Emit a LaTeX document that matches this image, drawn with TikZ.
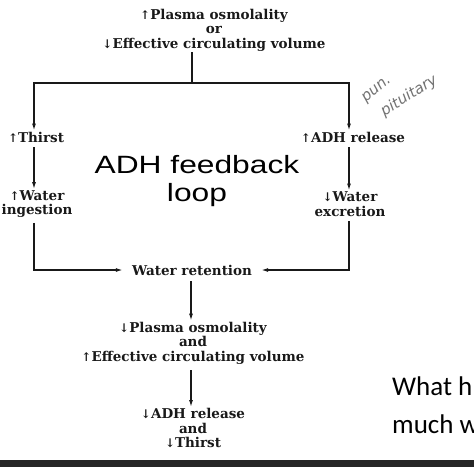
\documentclass[tikz,border=0pt]{standalone}
\usepackage{fontspec}
\usepackage{tikz}
\usetikzlibrary{arrows.meta}
\newfontfamily\chartfont{DejaVu Serif}
\newfontfamily\loopfont{Liberation Sans}
\newfontfamily\slidefont{Carlito}
\newfontfamily\handfont{DejaVu Sans}
\colorlet{ink}{black!90}
\colorlet{pencil}{black!55}
\colorlet{barcol}{black!85}
\newcommand\incr{{\fontsize{12}{12}\selectfont↑}}
\newcommand\decr{{\fontsize{12}{12}\selectfont↓}}

\tikzset{
  box/.style={font=\fontsize{13.5}{14.5}\selectfont\chartfont\bfseries, align=center, inner sep=1pt, text=ink},
  arr/.style={draw=ink, line width=1.3pt, -{Latex[length=7pt,width=4pt]}},
  wire/.style={draw=ink, line width=1.3pt},
  note/.style={font=\fontsize{15}{15}\selectfont\handfont\itshape, text=pencil, inner sep=0pt}
}

\begin{document}
\begin{tikzpicture}[x=1pt,y=-1pt]
\useasboundingbox (0,0) rectangle (474,467);
\fill[white] (0,0) rectangle (474,467);

\node[box] (top) at (214,30) {\incr Plasma osmolality\\or\\\decr Effective circulating volume};
\node[box] (thirst) at (36,137) {\incr Thirst};
\node[box] (adh) at (353,137) {\incr ADH release};
\node[box] (ingest) at (37,204) {\incr Water\\ingestion};
\node[box] (excr) at (350,204) {\decr Water\\excretion};
\node[box] (ret) at (192,270) {Water retention};
\node[box] (plasma) at (193,343) {\decr Plasma osmolality\\and\\\incr Effective circulating volume};
\node[box] (final) at (193,428) {\decr ADH release\\and\\\decr Thirst};
\node[font=\fontsize{25}{28}\selectfont\loopfont, align=center, xscale=1.27] (loop) at (197,181) {ADH feedback\\loop};

\coordinate (lcol) at (34,0);
\coordinate (rcol) at (349,0);
\coordinate (mcol) at (191,0);
\coordinate (split) at (192,83);

\draw[wire] (top.south -| split) -- (split);
\draw[arr] (split) -| (lcol |- thirst.north);
\draw[arr] (split) -| (rcol |- adh.north);
\draw[arr] (thirst.south -| lcol) ++(0,4) -- (ingest.north -| lcol);
\draw[arr] (adh.south -| rcol) ++(0,4) -- (excr.north -| rcol);
\draw[arr] (ingest.south -| lcol) ++(0,4) |- ([xshift=-8pt]ret.west);
\draw[arr] (excr.south -| rcol) ++(0,4) |- ([xshift=8pt]ret.east);
\draw[arr] (ret.south -| mcol) ++(0,5) -- (plasma.north -| mcol);
\draw[arr] (plasma.south -| mcol) ++(0,5) -- (final.north -| mcol);

\node[note, rotate=40] (pun) at (377,90) {pun.};
\node[note, rotate=32] (pit) at (409,96) {pituitary};

\begin{scope}
\clip (0,0) rectangle (474,467);
\node[font=\fontsize{27}{38}\selectfont\slidefont, anchor=base west, inner sep=0pt] (what) at (392,395) {What h};
\node[font=\fontsize{27}{38}\selectfont\slidefont, anchor=base west, inner sep=0pt] (much) at (392,433) {much w};
\fill[barcol] (0,460) rectangle (474,467);
\end{scope}
\end{tikzpicture}
\end{document}
